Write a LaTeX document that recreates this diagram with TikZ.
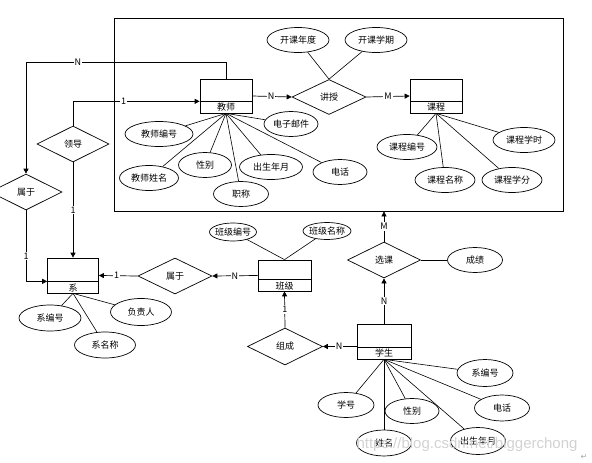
\documentclass[tikz,border=0pt]{standalone}
\usepackage{fontspec}
\newfontfamily\cjkfont{Noto Sans CJK SC}
\newfontfamily\markfont{Liberation Sans}
\newfontfamily\symfont{DejaVu Sans}
\usetikzlibrary{shapes.geometric, arrows.meta, positioning}

\begin{document}
\begin{tikzpicture}[x=1pt, y=-1pt, every node/.style={font=\cjkfont\fontsize{9}{10}\selectfont}]
    % Define styles
    \tikzstyle{entity} = [rectangle, draw=black, line width=0.7pt, minimum width=52, minimum height=34, inner sep=0pt, path picture={\draw[line width=0.7pt] ([yshift=12pt]path picture bounding box.south west) -- ([yshift=12pt]path picture bounding box.south east);}]
    \tikzstyle{relation} = [diamond, draw=black, line width=0.7pt, minimum width=74, minimum height=36, inner sep=0pt]
    \tikzstyle{attribute} = [ellipse, draw=black, line width=0.7pt, minimum width=56, minimum height=25, inner sep=0pt]
    \tikzstyle{line} = [line width=0.6pt]
    \tikzstyle{arrow} = [line width=0.7pt, -{Triangle[length=5pt, width=5pt]}]
    \tikzstyle{card} = [fill=white, inner sep=1pt]

    \useasboundingbox (0,0) rectangle (592,463);

    % Frame round teacher and course
    \node (frame) [draw=black, line width=0.8pt, minimum width=449, minimum height=193, inner sep=0pt] at (338.5, 114.5) {};

    % Entities
    \node (teacher) [entity, label={[anchor=south, inner sep=1.5pt]south:教师}] at (226, 96) {};
    \node (course) [entity, label={[anchor=south, inner sep=1.5pt]south:课程}] at (436, 96) {};
    \node (dept) [entity, minimum width=51, minimum height=35, label={[anchor=south, inner sep=1.5pt]south:系}] at (73, 275.5) {};
    \node (class) [entity, minimum width=53, minimum height=31, label={[anchor=south, inner sep=0.5pt]south:班级}] at (284.5, 275.5) {};
    \node (student) [entity, minimum width=54, minimum height=35, label={[anchor=south, inner sep=1.5pt]south:学生}] at (384, 341.5) {};

    % Relations
    \node (teach) [relation, minimum height=35] at (329, 97) {讲授};
    \node (belong1) [relation, minimum width=72] at (26, 192) {属于};
    \node (lead) [relation, minimum width=72] at (73, 144) {领导};
    \node (belong2) [relation] at (175, 276) {属于};
    \node (form) [relation, minimum width=75, minimum height=37] at (285, 346.5) {组成};
    \node (choose) [relation, minimum width=73] at (384, 260) {选课};

    % Teacher attributes
    \node (tno) [attribute, minimum width=68] at (159, 134) {教师编号};
    \node (tname) [attribute, minimum width=59] at (149, 178) {教师姓名};
    \node (tsex) [attribute, minimum width=53] at (205, 165) {性别};
    \node (ttitle) [attribute, minimum width=55] at (241, 194) {职称};
    \node (tbirth) [attribute, minimum width=63] at (271, 167) {出生年月};
    \node (tmail) [attribute, minimum width=54] at (291, 124) {电子邮件};
    \node (ttel) [attribute, minimum width=54] at (340, 172) {电话};

    % Teaching attributes
    \node (year) [attribute, minimum width=62] at (298, 40) {开课年度};
    \node (term) [attribute, minimum width=62] at (376, 40) {开课学期};

    % Course attributes
    \node (cno) [attribute, minimum width=60] at (407, 147) {课程编号};
    \node (cname) [attribute, minimum width=60] at (445, 180) {课程名称};
    \node (ccredit) [attribute, minimum width=60] at (512, 180) {课程学分};
    \node (chour) [attribute, minimum width=62] at (524, 140) {课程学时};

    % Department attributes
    \node (dno) [attribute, minimum width=62, minimum height=26] at (50, 318) {系编号};
    \node (dname) [attribute, minimum width=61, minimum height=26] at (105, 345) {系名称};
    \node (dhead) [attribute, minimum width=61, minimum height=27] at (141, 312) {负责人};

    % Class attributes
    \node (clno) [attribute, minimum width=47, minimum height=18, inner xsep=-5pt] at (233, 232) {班级编号};
    \node (clname) [attribute, minimum width=48, minimum height=17, inner xsep=-5pt] at (327, 231) {班级名称};

    % Student attributes
    \node (score) [attribute, minimum width=55] at (475, 260) {成绩};
    \node (sno) [attribute] at (346, 405) {学号};
    \node (ssex) [attribute, minimum width=54] at (412, 411) {性别};
    \node (sname) [attribute, minimum width=55, minimum height=26] at (384, 443) {姓名};
    \node (sbirth) [attribute, minimum width=55, minimum height=27] at (478, 441) {出生年月};
    \node (stel) [attribute, minimum width=55, minimum height=26] at (502, 408) {电话};
    \node (sdno) [attribute, minimum height=27] at (485, 373) {系编号};

    % Relation arrows
    \draw [arrow] (teacher.north) -- ++(0,-16) -| node[card, pos=0.37] {N} (belong1.north);
    \draw [arrow] (lead.north) |- node[card, pos=0.7] {1} ([yshift=12pt]teacher.south west);
    \draw [arrow] (belong1.south) |- node[card, pos=0.32] {1} ([yshift=12pt]dept.south west);
    \draw [arrow] (lead.south) -- node[card] {1} (dept.north);
    \draw [arrow] (belong2.west) -- node[card, pos=0.54] {1} (dept.east);
    \draw [arrow] (class.west) -- node[card] {N} (belong2.east);
    \draw [arrow] (teacher.east) -- node[card, pos=0.48] {N} (teach.west);
    \draw [arrow] (teach.east) -- node[card] {M} (course.west);
    \draw [arrow] (form.north) -- node[card] {1} (class.south);
    \draw [arrow] (student.west |- form.east) -- node[card, pos=0.52] {N} (form.east);
    \draw [arrow] (student.north) -- node[card] {N} (choose.south);
    \draw [arrow] (choose.north) -- node[card] {M} (choose.north |- frame.south);
    \draw [line] (choose.east) -- (score);

    % Attribute lines
    \draw [line] (teacher.south) -- (tno);
    \draw [line] (teacher.south) -- (tname);
    \draw [line] (teacher.south) -- (tsex);
    \draw [line] (teacher.south) -- (ttitle);
    \draw [line] (teacher.south) -- (tbirth);
    \draw [line] (teacher.south) -- (tmail);
    \draw [line] (teacher.south) -- (ttel);
    \draw [line] (teach.north) -- (year);
    \draw [line] (teach.north) -- (term);
    \draw [line] (course.south) -- (cno);
    \draw [line] (course.south) -- (cname);
    \draw [line] (course.south) -- (ccredit);
    \draw [line] (course.south) -- (chour);
    \draw [line] (dept.south) -- (dno);
    \draw [line] (dept.south) -- (dname);
    \draw [line] (dept.south) -- (dhead);
    \draw [line] (class.north) -- (clno);
    \draw [line] (class.north) -- (clname);
    \draw [line] (student.south) -- (sno);
    \draw [line] (student.south) -- (ssex);
    \draw [line] (student.south) -- (sname);
    \draw [line] (student.south) -- (sbirth);
    \draw [line] (student.south) -- (stel);
    \draw [line] (student.south) -- (sdno);

    % Watermark
    \node (mark) [font=\markfont\fontsize{15}{15}\selectfont, text=gray!35] at (467, 445) {https://blog.csdn.net/biggerchong};
    \node (ret) [font=\symfont\fontsize{8}{8}\selectfont, text=gray!70] at (584, 457) {↵};
\end{tikzpicture}
\end{document}
